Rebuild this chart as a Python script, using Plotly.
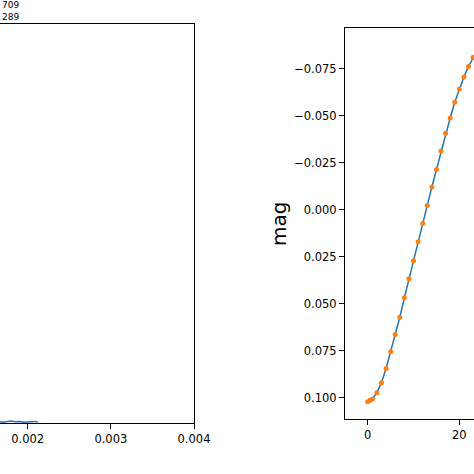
import plotly.graph_objects as go

# Left panel (mostly cropped): low-amplitude series near the baseline
left_freq = [0.00160, 0.00165, 0.00170, 0.00175, 0.00180, 0.00185, 0.00190,
             0.00195, 0.00200, 0.00205, 0.00210, 0.00212]
left_power = [0.003, 0.004, 0.002, 0.003, 0.005, 0.003, 0.004, 0.002,
              0.003, 0.003, 0.004, 0.002]
left_xticks = [0.002, 0.003, 0.004]
title_text = "709<br>289"

# Right panel: light curve
phase = [0, 0.5, 1, 2, 3, 4, 5, 6, 7, 8, 9, 10, 11, 12, 13, 14, 15, 16, 17,
         18, 19, 20, 21, 22, 23, 24]
mag = [0.1020, 0.1012, 0.1007, 0.0972, 0.0919, 0.0844, 0.0755, 0.0663, 0.0571,
       0.0468, 0.0367, 0.0271, 0.0170, 0.0073, -0.0023, -0.0121, -0.0214,
       -0.0312, -0.0406, -0.0488, -0.0571, -0.0642, -0.0706, -0.0762, -0.0810,
       -0.0850]
mag_ticks = [-0.075, -0.050, -0.025, 0.000, 0.025, 0.050, 0.075, 0.100]

W = H = 474
BLUE = "#1f77b4"
ORANGE = "#ff7f0e"
FONT = "DejaVu Sans"

def px(x):
    return x / W

def py(y):
    return 1 - y / H

fig = go.Figure()
fig.add_trace(go.Scatter(x=left_freq, y=left_power, mode="lines",
                         line=dict(color=BLUE, width=1.5),
                         xaxis="x", yaxis="y", showlegend=False))
fig.add_trace(go.Scatter(x=phase, y=mag, mode="lines",
                         line=dict(color=BLUE, width=1.5),
                         xaxis="x2", yaxis="y2", showlegend=False))
fig.add_trace(go.Scatter(x=phase, y=mag, mode="markers",
                         marker=dict(color=ORANGE, size=5),
                         xaxis="x2", yaxis="y2", showlegend=False))

axis_common = dict(showgrid=False, zeroline=False, linecolor="black",
                   linewidth=1, ticks="outside", ticklen=5, tickwidth=1,
                   tickcolor="black", automargin=False,
                   tickfont=dict(family=FONT, size=11.5, color="black"))

fig.update_layout(
    width=W, height=H,
    margin=dict(l=0, r=0, t=0, b=0, pad=0),
    paper_bgcolor="white", plot_bgcolor="white",
    xaxis=dict(domain=[0, px(194)], range=[0.001667, 0.004],
               tickvals=left_xticks, ticktext=["0.002", "0.003", "0.004"],
               showline=True, mirror=True, anchor="y", **axis_common),
    yaxis=dict(domain=[py(423), py(24)], range=[0, 1], side="right",
               showline=True, mirror=False, showticklabels=False,
               anchor="x", showgrid=False, zeroline=False, ticks="",
               automargin=False, linecolor="black", linewidth=1),
    xaxis2=dict(domain=[px(345), 1], range=[-4.96, 23.2], dtick=20,
                tick0=0, showline=True, mirror=True, anchor="y2",
                **axis_common),
    yaxis2=dict(domain=[py(419), py(28)], range=[0.1112, -0.0966],
                tickvals=mag_ticks, tickformat=".3f",
                showline=True, mirror=False, anchor="x2", **axis_common),
)

fig.add_annotation(text="mag", x=px(279), y=py(224), xref="paper",
                   yref="paper", textangle=-90, showarrow=False,
                   font=dict(family=FONT, size=20, color="black"))
fig.add_annotation(text=title_text, x=px(20), y=py(10.5), xref="paper",
                   yref="paper", xanchor="right", yanchor="middle",
                   align="right", showarrow=False, borderpad=0,
                   font=dict(family=FONT, size=9, color="black"))

fig.write_html("out.html",
               config={"displayModeBar": False},
               post_script="document.body.style.margin='0';"
                           "document.body.style.overflow='hidden';")
